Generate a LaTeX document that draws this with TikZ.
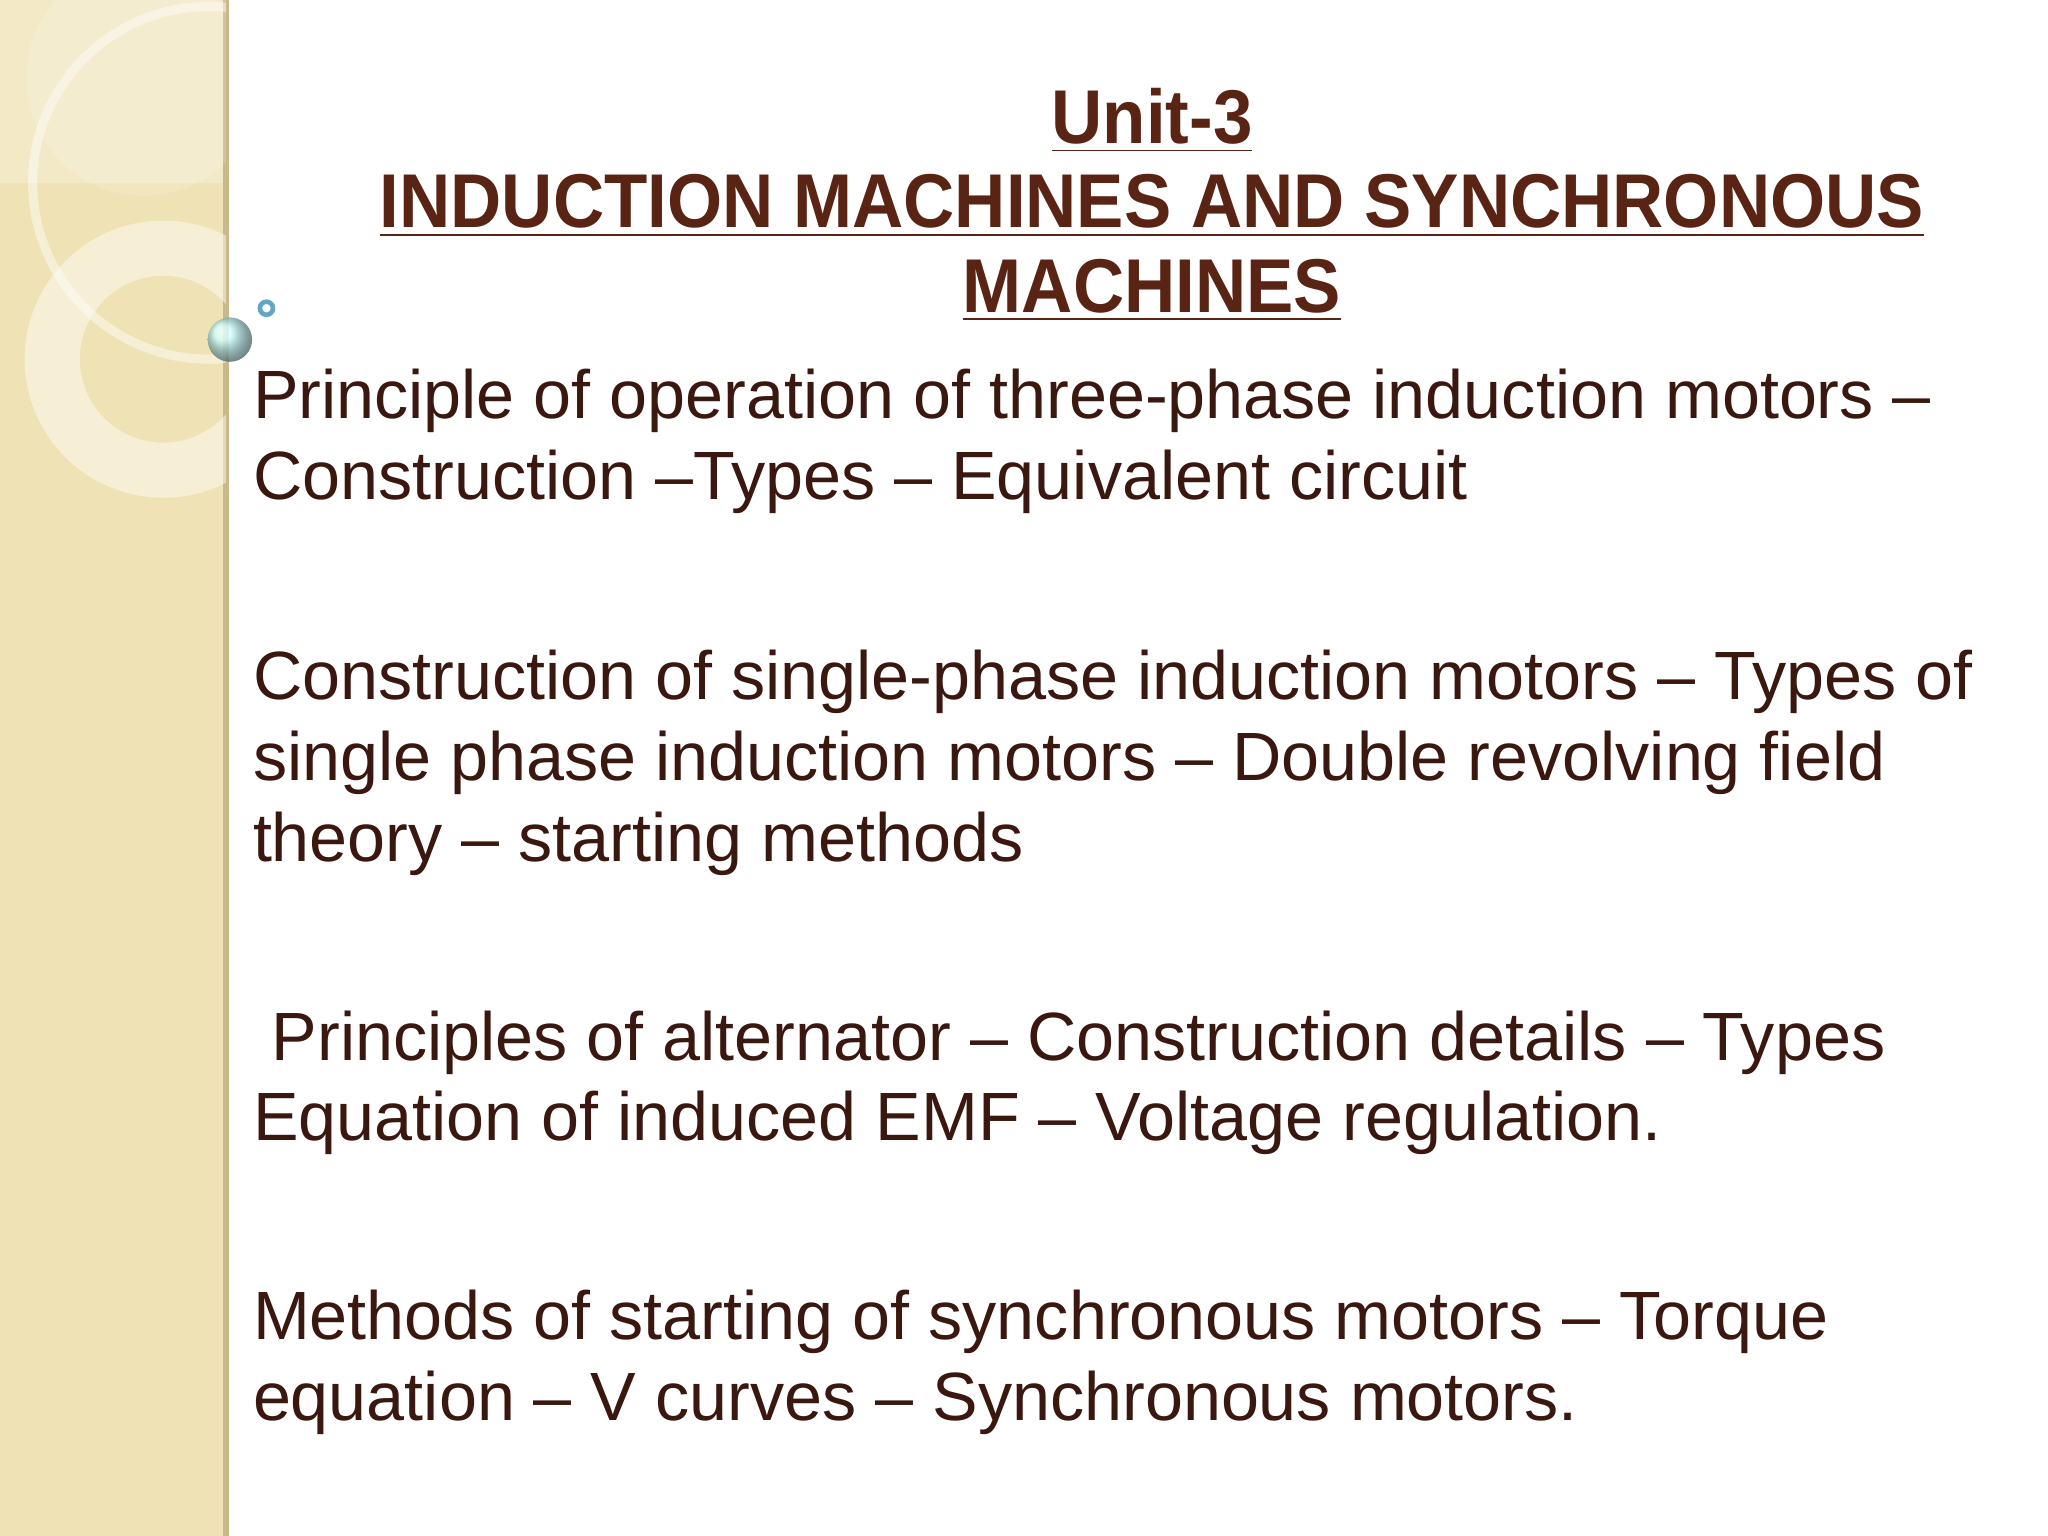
\documentclass[tikz,border=0pt]{standalone}
\usepackage{fontspec}
\setmainfont{Liberation Sans}
\definecolor{txt}{HTML}{3A1810}
\definecolor{ttl}{HTML}{5A2414}
\definecolor{beige}{HTML}{EFE2B4}
\definecolor{beigeline}{HTML}{C9B98A}
\tikzset{body/.style={anchor=north west,align=left,text=txt,font=\fontsize{14.87}{17.6}\selectfont,inner sep=0pt},
ring/.style={draw=white,opacity=0.45}}
\begin{document}
\begin{tikzpicture}[x=0.01cm,y=-0.01cm]
\useasboundingbox (0,0) rectangle (1568,1176);
\fill[white] (0,0) rectangle (1568,1176);
\fill[beige] (0,0) rectangle (172,1176);
\fill[beige!75!white] (0,0) rectangle (172,140);
\draw[beigeline,line width=1.5pt] (173,0) -- (173,1176);
\begin{scope}
\clip (0,0) rectangle (173,1176);
\draw[ring,line width=2pt] (160,140) circle (135);
\draw[ring,line width=12pt] (125,275) circle (85);
\fill[white,opacity=0.15] (110,60) circle (90);
\end{scope}
\shade[ball color=cyan!25!white,opacity=0.8] (176,260) circle (17);
\draw[cyan!50!gray,line width=1pt] (204,236) circle (5);
\node[align=center,text=ttl,font=\fontsize{16.6}{18.4}\selectfont\bfseries,inner sep=0pt,xscale=0.93] (title) at (882,157)
{\underline{Unit-3}\\\underline{INDUCTION MACHINES AND SYNCHRONOUS}\\\underline{MACHINES}};
\node[body] (p1) at (193,282) {Principle of operation of three-phase induction motors –\\Construction –Types – Equivalent circuit};
\node[body] (p2) at (193,497) {Construction of single-phase induction motors – Types of\\single phase induction motors – Double revolving field\\theory – starting methods};
\node[body] (p3) at (193,773) {\ Principles of alternator – Construction details – Types\\Equation of induced EMF – Voltage regulation.};
\node[body] (p4) at (193,987) {Methods of starting of synchronous motors – Torque\\equation – V curves – Synchronous motors.};
\end{tikzpicture}
\end{document}
